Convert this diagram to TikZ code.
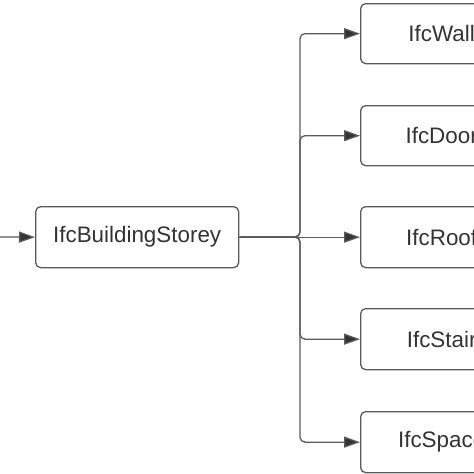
\documentclass[tikz,border=0pt]{standalone}
\usepackage{fontspec}
\setmainfont{Liberation Sans}
\usetikzlibrary{arrows.meta}
\definecolor{linegray}{HTML}{5A5A5A}
\definecolor{textgray}{HTML}{333333}
\tikzset{
  box/.style={draw=linegray, line width=1.3pt, rounded corners=5pt, fill=white,
    text=textgray, font=\fontsize{22.4}{26}\selectfont, inner sep=0pt, anchor=north west},
  conn/.style={draw=linegray, line width=1.3pt, rounded corners=5pt,
    -{Triangle[length=16pt,width=11pt,fill=textgray]}},
}
\begin{document}
\begin{tikzpicture}[x=1pt,y=-1pt]
\useasboundingbox (0,0) rectangle (474,474);
\clip (0,0) rectangle (474,474);
\node[box, minimum width=203pt, minimum height=61pt] (storey) at (35,206) {IfcBuildingStorey};
\node[box, minimum width=162pt, minimum height=60pt] (wall) at (360,3) {IfcWall};
\node[box, minimum width=162pt, minimum height=60pt] (door) at (360,105) {IfcDoor};
\node[box, minimum width=162pt, minimum height=61pt] (roof) at (360,206) {IfcRoof};
\node[box, minimum width=162pt, minimum height=61pt] (stair) at (360,308) {IfcStair};
\node[box, minimum width=162pt, minimum height=61pt] (space) at (360,411) {IfcSpace};
\coordinate (src) at (-2,237);
\coordinate (trunk) at (300,237);
\draw[conn] (src) -- (storey.west);
\draw[conn] (storey.east) -- (trunk) |- (wall.west);
\draw[conn] (storey.east) -- (trunk) |- (door.west);
\draw[conn] (storey.east) -- (roof.west);
\draw[conn] (storey.east) -- (trunk) |- (stair.west);
\draw[conn] (storey.east) -- (trunk) |- (space.west);
\end{tikzpicture}
\end{document}
